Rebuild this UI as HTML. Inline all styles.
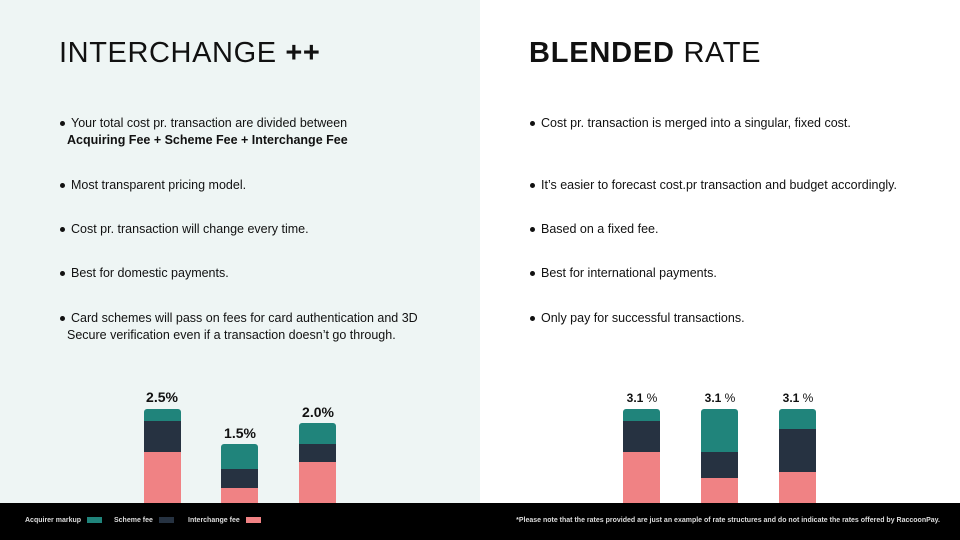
<!DOCTYPE html>
<html><head><meta charset="utf-8"><style>
*{margin:0;padding:0;box-sizing:border-box}
body{width:960px;height:540px;position:relative;overflow:hidden;font-family:"Liberation Sans",sans-serif;background:#fff;color:#111}
.lp{position:absolute;left:0;top:0;width:480px;height:503px;background:#eef5f4}
.foot{position:absolute;left:0;top:503px;width:960px;height:37px;background:#000;color:#ddd;font-size:7px}
.t{position:absolute;font-size:29px;letter-spacing:0.6px;color:#111}
.b{position:absolute;font-size:12.5px;color:#111;white-space:nowrap;line-height:17px}
.b:before{content:"";position:absolute;left:-11px;top:6px;width:5px;height:5px;border-radius:50%;background:#111}
.bar{position:absolute;width:37px;border-radius:3px 3px 0 0;overflow:hidden}
.bar div{width:100%}
.g{background:#20847b}.d{background:#263241}.p{background:#f08284}
.lab{position:absolute;font-weight:bold;font-size:14px;text-align:center;width:60px}
.sw{display:inline-block;width:15px;height:6px;vertical-align:middle;margin-left:6px}
</style></head><body>
<div class="lp"></div>
<div class="t" style="left:59px;top:37px">INTERCHANGE <b>++</b></div>
<div class="t" style="left:529px;top:37px"><b style="letter-spacing:0.8px">BLENDED</b> RATE</div>

<div class="b" style="left:71px;top:115px">Your total cost pr. transaction are divided between<br><b style="margin-left:-4px">Acquiring Fee + Scheme Fee + Interchange Fee</b></div>
<div class="b" style="left:71px;top:177px">Most transparent pricing model.</div>
<div class="b" style="left:71px;top:221px">Cost pr. transaction will change every time.</div>
<div class="b" style="left:71px;top:265px">Best for domestic payments.</div>
<div class="b" style="left:71px;top:310px">Card schemes will pass on fees for card authentication and 3D<br><span style="margin-left:-4px">Secure verification even if a transaction doesn’t go through.</span></div>

<div class="b" style="left:541px;top:115px">Cost pr. transaction is merged into a singular, fixed cost.</div>
<div class="b" style="left:541px;top:177px">It’s easier to forecast cost.pr transaction and budget accordingly.</div>
<div class="b" style="left:541px;top:221px">Based on a fixed fee.</div>
<div class="b" style="left:541px;top:265px">Best for international payments.</div>
<div class="b" style="left:541px;top:310px">Only pay for successful transactions.</div>

<div class="lab" style="left:132px;top:389px">2.5%</div>
<div class="bar" style="left:144px;top:409px"><div class="g" style="height:12px"></div><div class="d" style="height:31px"></div><div class="p" style="height:51px"></div></div>
<div class="lab" style="left:210px;top:425px">1.5%</div>
<div class="bar" style="left:221px;top:444px"><div class="g" style="height:25px"></div><div class="d" style="height:19px"></div><div class="p" style="height:15px"></div></div>
<div class="lab" style="left:288px;top:404px">2.0%</div>
<div class="bar" style="left:299px;top:423px"><div class="g" style="height:21px"></div><div class="d" style="height:18px"></div><div class="p" style="height:41px"></div></div>

<div class="lab" style="left:612px;top:391px;font-size:12px">3.1 <span style="font-weight:normal">%</span></div>
<div class="bar" style="left:623px;top:409px"><div class="g" style="height:12px"></div><div class="d" style="height:31px"></div><div class="p" style="height:51px"></div></div>
<div class="lab" style="left:690px;top:391px;font-size:12px">3.1 <span style="font-weight:normal">%</span></div>
<div class="bar" style="left:701px;top:409px"><div class="g" style="height:43px"></div><div class="d" style="height:26px"></div><div class="p" style="height:25px"></div></div>
<div class="lab" style="left:768px;top:391px;font-size:12px">3.1 <span style="font-weight:normal">%</span></div>
<div class="bar" style="left:779px;top:409px"><div class="g" style="height:20px"></div><div class="d" style="height:43px"></div><div class="p" style="height:31px"></div></div>

<div class="foot">
<div style="position:absolute;left:25px;top:14px;font-weight:bold">Acquirer markup<span class="sw g"></span></div>
<div style="position:absolute;left:114px;top:14px;font-weight:bold">Scheme fee<span class="sw d"></span></div>
<div style="position:absolute;left:188px;top:14px;font-weight:bold">Interchange fee<span class="sw p"></span></div>
<div style="position:absolute;right:20px;top:14px;font-size:7px;font-weight:bold">*Please note that the rates provided are just an example of rate structures and do not indicate the rates offered by RaccoonPay.</div>
</div>
</body></html>
